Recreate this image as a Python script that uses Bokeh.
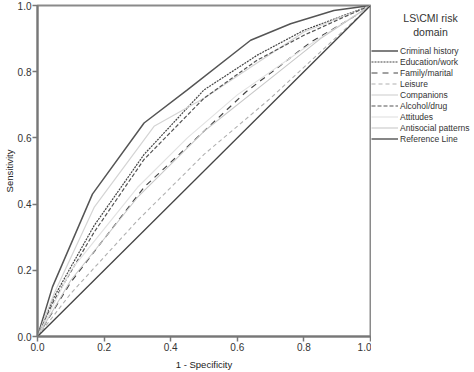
from bokeh.plotting import figure
from bokeh.layouts import row
from bokeh.models import (Range1d, Legend, LegendItem, FixedTicker,
                          PrintfTickFormatter, Label)
from bokeh.embed import file_html
from bokeh.resources import INLINE

# ROC curves (1 - specificity, sensitivity)
criminal_x = [0, 0.045, 0.165, 0.32, 0.45, 0.64, 0.76, 0.89, 1]
criminal_y = [0, 0.15, 0.43, 0.645, 0.745, 0.895, 0.945, 0.985, 1]
education_x = [0, 0.05, 0.17, 0.32, 0.5, 0.66, 0.8, 0.92, 1]
education_y = [0, 0.12, 0.335, 0.55, 0.745, 0.85, 0.925, 0.97, 1]
family_x = [0, 0.1, 0.2, 0.32, 0.47, 0.625, 0.82, 0.94, 1]
family_y = [0, 0.164, 0.295, 0.451, 0.592, 0.738, 0.889, 0.96, 1]
leisure_x = [0, 0.1, 0.3, 0.5, 0.7, 0.85, 1]
leisure_y = [0, 0.13, 0.35, 0.55, 0.72, 0.86, 1]
companions_x = [0, 0.05, 0.17, 0.35, 0.5, 0.65, 0.8, 1]
companions_y = [0, 0.13, 0.39, 0.635, 0.72, 0.82, 0.92, 1]
alcohol_x = [0, 0.05, 0.17, 0.32, 0.5, 0.66, 0.8, 0.92, 1]
alcohol_y = [0, 0.11, 0.315, 0.535, 0.72, 0.835, 0.91, 0.965, 1]
attitudes_x = [0, 0.1, 0.3, 0.45, 0.6, 0.8, 1]
attitudes_y = [0, 0.2, 0.45, 0.6, 0.73, 0.87, 1]
antisocial_x = [0, 0.1, 0.3, 0.5, 0.7, 0.85, 1]
antisocial_y = [0, 0.17, 0.42, 0.62, 0.78, 0.9, 1]
reference_x = [0, 1]
reference_y = [0, 1]

labels = ["Criminal history", "Education/work", "Family/marital", "Leisure",
          "Companions", "Alcohol/drug", "Attitudes", "Antisocial patterns",
          "Reference Line"]
legend_title = "LS\\CMI risk\ndomain"
ticks = [0.0, 0.2, 0.4, 0.6, 0.8, 1.0]

FONT = "Liberation Sans"
H = 372

p = figure(width=371, height=H, output_backend="svg", toolbar_location=None,
           x_range=Range1d(0, 1), y_range=Range1d(0, 1),
           min_border_left=37, min_border_right=1, min_border_top=5,
           min_border_bottom=36)
p.xgrid.visible = False
p.ygrid.visible = False
p.outline_line_color = "#8a8a8a"
p.outline_line_width = 2

for ax in (p.xaxis[0], p.yaxis[0]):
    ax.ticker = FixedTicker(ticks=ticks)
    ax.formatter = PrintfTickFormatter(format="%.1f")
    ax.axis_line_color = "#777777"
    ax.axis_line_width = 2
    ax.major_tick_line_color = "#777777"
    ax.major_tick_line_width = 1.5
    ax.major_tick_out = 5
    ax.major_tick_in = 0
    ax.minor_tick_line_color = None
    ax.major_label_text_font = FONT
    ax.major_label_text_font_size = "10px"
    ax.major_label_text_color = "#333333"
    ax.major_label_standoff = 1
    ax.axis_label_text_font = FONT
    ax.axis_label_text_font_size = "9.5px"
    ax.axis_label_text_font_style = "normal"
    ax.axis_label_text_color = "#222222"
    ax.axis_label_standoff = 0
p.xaxis[0].axis_label = "1 - Specificity"
p.yaxis[0].axis_label = "Sensitivity"
p.xaxis[0].axis_label_standoff = 5

series = [
    (criminal_x, criminal_y, "#555555", 1.5, "solid"),
    (education_x, education_y, "#444444", 1.2, "2 1"),
    (family_x, family_y, "#444444", 1.2, "6 5"),
    (leisure_x, leisure_y, "#b0b0b0", 1.1, "4 3"),
    (companions_x, companions_y, "#d4d4d4", 1.2, "solid"),
    (alcohol_x, alcohol_y, "#555555", 1.2, "4 2"),
    (attitudes_x, attitudes_y, "#e2e2e2", 1.2, "solid"),
    (antisocial_x, antisocial_y, "#c8c8c8", 1.1, "solid"),
    (reference_x, reference_y, "#444444", 1.3, "solid"),
]

for xs, ys, col, w, dash in series:
    p.line(xs, ys, line_color=col, line_width=w, line_dash=dash)

# legend panel to the right of the plot (its ranges keep the copies out of view)
p2 = figure(width=103, height=H, output_backend="svg", toolbar_location=None,
            x_range=Range1d(2, 3), y_range=Range1d(2, 3),
            x_axis_location=None, y_axis_location=None, min_border=0)
p2.grid.visible = False
p2.outline_line_color = None

items = []
for (xs, ys, col, w, dash), lab in zip(series, labels):
    r = p2.line(xs, ys, line_color=col, line_width=w, line_dash=dash)
    items.append(LegendItem(label=lab, renderers=[r]))

legend = Legend(items=items, location=(0, 192), padding=0, margin=0,
                border_line_color=None, background_fill_alpha=0,
                glyph_width=27, glyph_height=11, label_height=11,
                label_standoff=2, spacing=0,
                label_text_font=FONT, label_text_font_size="8.5px",
                label_text_color="#333333")
p2.add_layout(legend, "center")

title = Label(x=2 + 59 / 103, y=3 - 7 / H, text=legend_title, text_align="center",
              text_baseline="top", text_font=FONT, text_font_size="10.5px",
              text_color="#333333")
p2.add_layout(title)

open("out.html", "w").write(file_html(row(p, p2), INLINE))
